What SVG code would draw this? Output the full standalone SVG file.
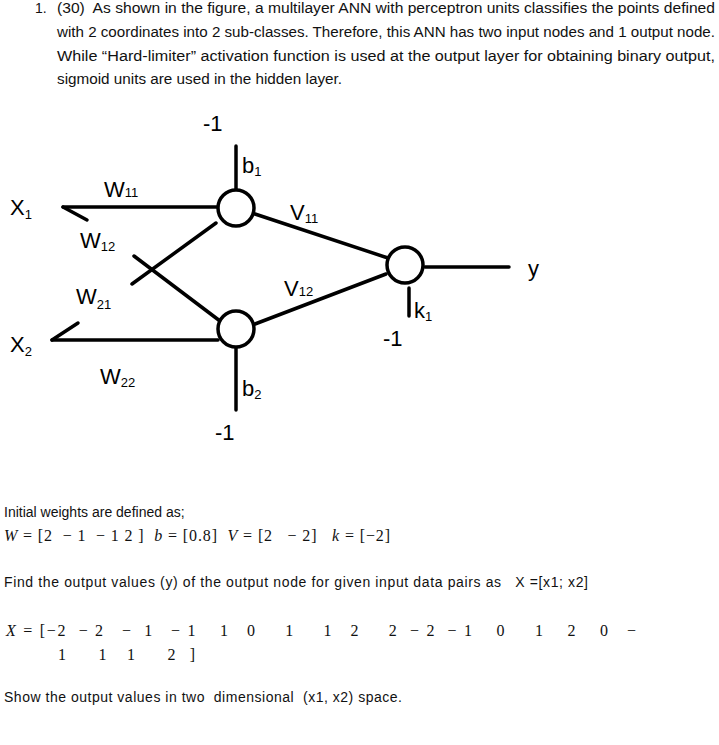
<svg xmlns="http://www.w3.org/2000/svg" width="719" height="745" viewBox="0 0 719 745">
<style>
text{white-space:pre}
.t{font-family:"Liberation Sans",Arial,sans-serif;font-size:14px;fill:#111}
.m{font-family:"Liberation Serif","Times New Roman",serif;font-size:16px;fill:#111}
.h{font-family:"Liberation Sans",Arial,sans-serif;font-size:22px;fill:#000}
.s{font-size:13px}
.e{stroke:#000;stroke-width:3.5;fill:none;stroke-linecap:round}
.n{stroke:#000;stroke-width:3.5;fill:#fff}
</style>
<rect width="719" height="745" fill="#fff"/>
<g class="t">
<text x="35" y="13">1.</text>
<text x="57" y="13" textLength="658" lengthAdjust="spacingAndGlyphs">(30)  As shown in the figure, a multilayer ANN with perceptron units classifies the points defined</text>
<text x="57" y="37" textLength="658" lengthAdjust="spacingAndGlyphs">with 2 coordinates into 2 sub-classes. Therefore, this ANN has two input nodes and 1 output node.</text>
<text x="57" y="61" textLength="658" lengthAdjust="spacingAndGlyphs">While “Hard-limiter” activation function is used at the output layer for obtaining binary output,</text>
<text x="57" y="84" textLength="285" lengthAdjust="spacingAndGlyphs">sigmoid units are used in the hidden layer.</text>
</g>
<g id="connectors" class="e">
<path d="M63 207H217"/>
<path d="M63 207L87 220"/>
<path d="M134 256L220 321"/>
<path d="M216 223L132 284"/>
<path d="M52 340H218"/>
<path d="M52 340L78 323"/>
<path d="M236 146V190"/>
<path d="M236 348V410"/>
<path d="M255 214L388 258"/>
<path d="M255 324L386 274"/>
<path d="M425 267H509"/>
<path d="M409 288V316"/>
</g>
<g id="h1"><circle class="n" cx="236" cy="208" r="18"/></g>
<g id="h2"><circle class="n" cx="236" cy="329" r="18"/></g>
<g id="out"><circle class="n" cx="405" cy="265" r="18"/></g>
<g id="labels" class="h">
<text x="10" y="215">X<tspan class="s" dy="4">1</tspan></text>
<text x="10" y="352">X<tspan class="s" dy="4">2</tspan></text>
<text x="203" y="131">-1</text>
<text x="242" y="173">b<tspan class="s" dy="3">1</tspan></text>
<text x="242" y="396">b<tspan class="s" dy="3">2</tspan></text>
<text x="215" y="440">-1</text>
<text x="104" y="197">W<tspan class="s">11</tspan></text>
<text x="80" y="248">W<tspan class="s" dy="3">12</tspan></text>
<text x="76" y="304">W<tspan class="s" dy="5">21</tspan></text>
<text x="100" y="384">W<tspan class="s" dy="3">22</tspan></text>
<text x="290" y="220">V<tspan class="s" dy="3">11</tspan></text>
<text x="284" y="296">V<tspan class="s">12</tspan></text>
<text x="414" y="318">k<tspan class="s" dy="3">1</tspan></text>
<text x="383" y="346">-1</text>
<text x="528" y="276">y</text>
</g>
<g>
<text class="t" x="4" y="517">Initial weights are defined as;</text>
<text class="m" x="4" y="541" textLength="386"><tspan font-style="italic">W</tspan> = [2  − 1  − 1 2 ]  <tspan font-style="italic">b</tspan> = [0.8]  <tspan font-style="italic">V</tspan> = [2   − 2]   <tspan font-style="italic">k</tspan> = [−2]</text>
<text class="t" x="4" y="587" textLength="584">Find the output values (y) of the output node for given input data pairs as   X =[x1; x2]</text>
<text class="m" x="6" y="636" textLength="630"><tspan font-style="italic">X</tspan> = [−2  − 2   −  1   − 1    1   0     1     1   2     2  − 2  − 1    0     1    2    0   −</text>
<text class="m" x="58" y="660" textLength="137">1     1   1     2  ]</text>
<text class="t" x="4" y="702" textLength="398">Show the output values in two  dimensional  (x1, x2) space.</text>
</g>
</svg>
